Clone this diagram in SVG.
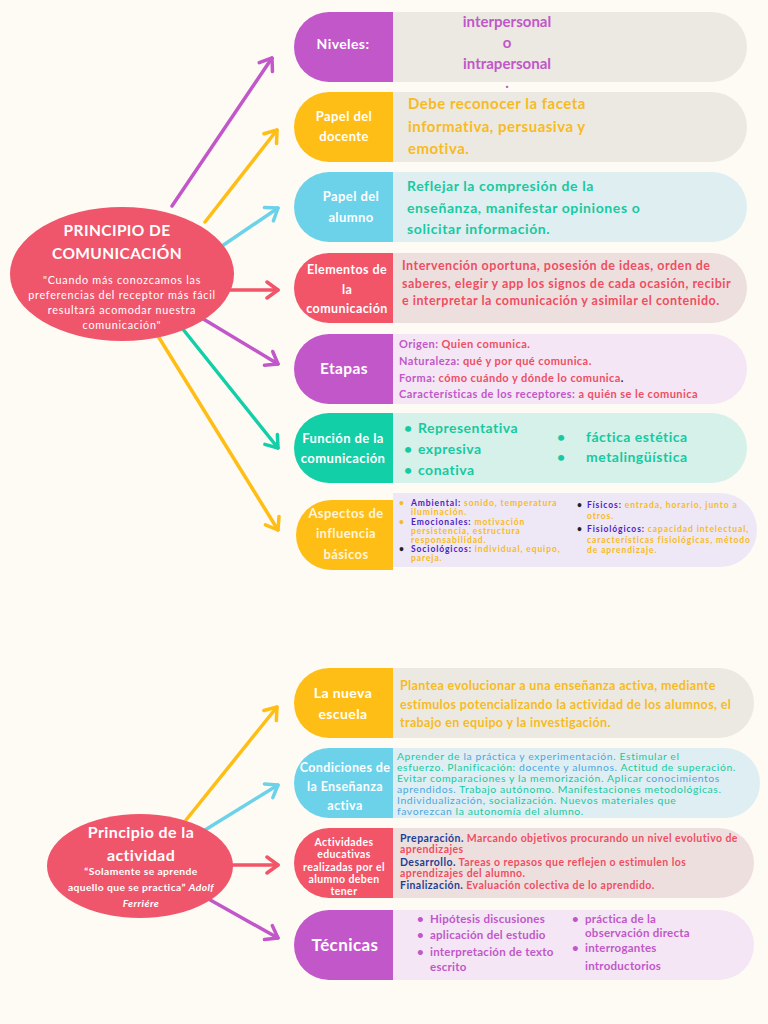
<svg xmlns="http://www.w3.org/2000/svg" width="768" height="1024" viewBox="0 0 768 1024">
<defs>
<style>
text{font-family:Lato,"Open Sans","Noto Sans",sans-serif}
.lbl{fill:#fff;font-weight:700;text-anchor:middle;letter-spacing:0.4px}
.b{font-weight:700}
.pu{fill:#C157C9}.ye{fill:#F7BB22}.te{fill:#17C9A0}.re{fill:#EE4E62}.bl{fill:#4BA6E0}.ind{fill:#4B22C2}.nv{fill:#1E3F94}.bk{fill:#222}
</style>
<marker id="mP" viewBox="-14 -11 16 22" refX="0" refY="0" markerWidth="16" markerHeight="22" markerUnits="userSpaceOnUse" orient="auto"><path d="M-11,-8 L0,0 L-11,8" fill="none" stroke="#C157C9" stroke-width="3.5" stroke-linecap="round" stroke-linejoin="round"/></marker>
<marker id="mY" viewBox="-14 -11 16 22" refX="0" refY="0" markerWidth="16" markerHeight="22" markerUnits="userSpaceOnUse" orient="auto"><path d="M-11,-8 L0,0 L-11,8" fill="none" stroke="#FFBE16" stroke-width="3.5" stroke-linecap="round" stroke-linejoin="round"/></marker>
<marker id="mB" viewBox="-14 -11 16 22" refX="0" refY="0" markerWidth="16" markerHeight="22" markerUnits="userSpaceOnUse" orient="auto"><path d="M-11,-8 L0,0 L-11,8" fill="none" stroke="#6CD2EA" stroke-width="3.5" stroke-linecap="round" stroke-linejoin="round"/></marker>
<marker id="mR" viewBox="-14 -11 16 22" refX="0" refY="0" markerWidth="16" markerHeight="22" markerUnits="userSpaceOnUse" orient="auto"><path d="M-11,-8 L0,0 L-11,8" fill="none" stroke="#F25468" stroke-width="3.5" stroke-linecap="round" stroke-linejoin="round"/></marker>
<marker id="mT" viewBox="-14 -11 16 22" refX="0" refY="0" markerWidth="16" markerHeight="22" markerUnits="userSpaceOnUse" orient="auto"><path d="M-11,-8 L0,0 L-11,8" fill="none" stroke="#12CFA7" stroke-width="3.5" stroke-linecap="round" stroke-linejoin="round"/></marker>
</defs>
<rect width="768" height="1024" fill="#FDFBF4"/>

<g id="connectors" fill="none" stroke-width="3.5" stroke-linecap="round">
<line x1="172" y1="206" x2="272" y2="58" stroke="#C157C9" marker-end="url(#mP)"/>
<line x1="205" y1="222" x2="277" y2="130" stroke="#FFBE16" marker-end="url(#mY)"/>
<line x1="222" y1="246" x2="278" y2="208" stroke="#6CD2EA" marker-end="url(#mB)"/>
<line x1="230" y1="290" x2="278" y2="290" stroke="#F25468" marker-end="url(#mR)"/>
<line x1="200" y1="317" x2="278" y2="364" stroke="#C157C9" marker-end="url(#mP)"/>
<line x1="182" y1="328" x2="278" y2="448" stroke="#12CFA7" marker-end="url(#mT)"/>
<line x1="158" y1="336" x2="278" y2="530" stroke="#FFBE16" marker-end="url(#mY)"/>
<line x1="186" y1="820" x2="277" y2="707" stroke="#FFBE16" marker-end="url(#mY)"/>
<line x1="205" y1="830" x2="278" y2="785" stroke="#6CD2EA" marker-end="url(#mB)"/>
<line x1="230" y1="865" x2="278" y2="865" stroke="#F25468" marker-end="url(#mR)"/>
<line x1="205" y1="897" x2="278" y2="938" stroke="#C157C9" marker-end="url(#mP)"/>
</g>

<g id="principio-comunicacion">
<ellipse cx="122" cy="274" rx="112" ry="67" fill="#F0566B"/>
<text class="lbl" x="117" y="236" font-size="15.5" letter-spacing="0.7">PRINCIPIO DE</text>
<text class="lbl" x="117" y="259" font-size="15.5" letter-spacing="0.7">COMUNICACIÓN</text>
<g font-size="10.8" fill="#fff" text-anchor="middle" letter-spacing="0.75">
<text x="122" y="284">"Cuando más conozcamos las</text>
<text x="122" y="299">preferencias del receptor más fácil</text>
<text x="122" y="314">resultará acomodar nuestra</text>
<text x="122" y="329">comunicación"</text>
</g>
</g>

<g id="niveles">
<path d="M393,12 H712 A35,35 0 0 1 712,82 H393 Z" fill="#ECE9E2"/>
<path d="M393,12 H329 A35,35 0 0 0 329,82 H393 Z" fill="#C157C9"/>
<text class="lbl" x="343" y="49" font-size="14">Niveles:</text>
<g font-size="15" class="b pu" text-anchor="middle" style="font-family:'Liberation Sans',Arial,sans-serif">
<text x="507" y="27">interpersonal</text>
<text x="507" y="48">o</text>
<text x="507" y="69">intrapersonal</text>
<text x="507" y="88">.</text>
</g>
</g>

<g id="papel-docente">
<path d="M393,92 H712 A35,35 0 0 1 712,162 H393 Z" fill="#ECE9E2"/>
<path d="M393,92 H329 A35,35 0 0 0 329,162 H393 Z" fill="#FFBE16"/>
<text class="lbl" x="344" y="121" font-size="13">Papel del</text>
<text class="lbl" x="344" y="141" font-size="13">docente</text>
<g font-size="15" class="b ye" letter-spacing="0.5">
<text x="408" y="109">Debe reconocer la faceta</text>
<text x="408" y="132">informativa, persuasiva y</text>
<text x="408" y="154">emotiva.</text>
</g>
</g>

<g id="papel-alumno">
<path d="M393,172 H712 A35,35 0 0 1 712,242 H393 Z" fill="#DFEEF0"/>
<path d="M393,172 H329 A35,35 0 0 0 329,242 H393 Z" fill="#6CD2EA"/>
<text class="lbl" x="351" y="201" font-size="13">Papel del</text>
<text class="lbl" x="351" y="222" font-size="13">alumno</text>
<g font-size="14" class="b te" letter-spacing="0.6">
<text x="407" y="191">Reflejar la compresión de la</text>
<text x="407" y="213">enseñanza, manifestar opiniones o</text>
<text x="407" y="234">solicitar información.</text>
</g>
</g>

<g id="elementos">
<path d="M393,253 H712 A35,35 0 0 1 712,323 H393 Z" fill="#EEDFDF"/>
<path d="M393,253 H329 A35,35 0 0 0 329,323 H393 Z" fill="#F25468"/>
<text class="lbl" x="347" y="274" font-size="12.5">Elementos de</text>
<text class="lbl" x="347" y="294" font-size="12.5">la</text>
<text class="lbl" x="347" y="313" font-size="12.5">comunicación</text>
<g font-size="12.5" class="b re" letter-spacing="0.5">
<text x="402" y="270">Intervención oportuna, posesión de ideas, orden de</text>
<text x="402" y="288">saberes, elegir y app los signos de cada ocasión, recibir</text>
<text x="402" y="305">e interpretar la comunicación y asimilar el contenido.</text>
</g>
</g>

<g id="etapas">
<path d="M393,334 H712 A35,35 0 0 1 712,404 H393 Z" fill="#F4E6F4"/>
<path d="M393,334 H329 A35,35 0 0 0 329,404 H393 Z" fill="#C157C9"/>
<text class="lbl" x="344" y="374" font-size="15.5">Etapas</text>
<g font-size="11" class="b" letter-spacing="0.45">
<text x="399" y="348"><tspan class="pu">Origen: </tspan><tspan class="re">Quien comunica.</tspan></text>
<text x="399" y="365"><tspan class="pu">Naturaleza: </tspan><tspan class="re">qué y por qué comunica.</tspan></text>
<text x="399" y="382"><tspan class="pu">Forma: </tspan><tspan class="re">cómo cuándo y dónde lo comunica</tspan><tspan class="bk">.</tspan></text>
<text x="399" y="398"><tspan class="pu">Características de los receptores: </tspan><tspan class="re">a quién se le comunica</tspan></text>
</g>
</g>

<g id="funcion">
<path d="M393,413 H712 A35,35 0 0 1 712,483 H393 Z" fill="#D5F1EA"/>
<path d="M393,413 H329 A35,35 0 0 0 329,483 H393 Z" fill="#12CFA7"/>
<text class="lbl" x="343" y="443" font-size="13">Función de la</text>
<text class="lbl" x="343" y="463" font-size="13">comunicación</text>
<g font-size="14" class="b te" letter-spacing="0.5">
<text x="404" y="433">•</text><text x="418" y="433">Representativa</text>
<text x="404" y="454">•</text><text x="418" y="454">expresiva</text>
<text x="404" y="475">•</text><text x="418" y="475">conativa</text>
<text x="557" y="442">•</text><text x="586" y="442">fáctica estética</text>
<text x="557" y="462">•</text><text x="586" y="462">metalingüística</text>
</g>
</g>

<g id="aspectos">
<path d="M393,493 H720 A37,37 0 0 1 720,567 H393 Z" fill="#EEE7F6"/>
<path d="M393,500 H331 A35,35 0 0 0 331,570 H393 Z" fill="#FFBE16"/>
<text class="lbl" x="346" y="518" font-size="13" fill-opacity="0.85">Aspectos de</text>
<text class="lbl" x="346" y="538" font-size="13" fill-opacity="0.85">influencia</text>
<text class="lbl" x="346" y="559" font-size="13" fill-opacity="0.85">básicos</text>
<g font-size="8.5" class="b" letter-spacing="0.9">
<text x="399" y="506" class="ye">•</text><text x="411" y="506"><tspan class="ind">Ambiental: </tspan><tspan class="ye">sonido, temperatura</tspan></text>
<text x="411" y="515" class="ye">iluminación.</text>
<text x="399" y="525" class="ye">•</text><text x="411" y="525"><tspan class="ind">Emocionales: </tspan><tspan class="ye">motivación</tspan></text>
<text x="411" y="534" class="ye">persistencia, estructura</text>
<text x="411" y="543" class="ye">responsabilidad.</text>
<text x="399" y="552" class="bk">•</text><text x="411" y="552"><tspan class="ind">Sociológicos: </tspan><tspan class="ye">individual, equipo,</tspan></text>
<text x="411" y="561" class="ye">pareja.</text>
<text x="577" y="508" class="bk">•</text><text x="587" y="508"><tspan class="ind">Físicos: </tspan><tspan class="ye">entrada, horario, junto a</tspan></text>
<text x="587" y="519" class="ye">otros.</text>
<text x="577" y="532" class="bk">•</text><text x="587" y="532"><tspan class="ind">Fisiológicos: </tspan><tspan class="ye">capacidad intelectual,</tspan></text>
<text x="587" y="543" class="ye">características fisiológicas, método</text>
<text x="587" y="553" class="ye">de aprendizaje.</text>
</g>
</g>

<g id="principio-actividad">
<ellipse cx="140" cy="866" rx="93" ry="52" fill="#F0566B"/>
<text class="lbl" x="141" y="838" font-size="16">Principio de la</text>
<text class="lbl" x="141" y="861" font-size="16">actividad</text>
<g font-size="10.3">
<text class="lbl" x="141" y="875" letter-spacing="0.7">“Solamente se aprende</text>
<text class="lbl" x="141" y="891" letter-spacing="0.7">aquello que se practica” <tspan font-style="italic">Adolf</tspan></text>
<text class="lbl" x="141" y="907" font-style="italic" letter-spacing="0.7">Ferriére</text>
</g>
</g>

<g id="nueva-escuela">
<path d="M393,668 H719 A35,35 0 0 1 719,738 H393 Z" fill="#ECE9E2"/>
<path d="M393,668 H329 A35,35 0 0 0 329,738 H393 Z" fill="#FFBE16"/>
<text class="lbl" x="343" y="698" font-size="14">La nueva</text>
<text class="lbl" x="343" y="719" font-size="14">escuela</text>
<g font-size="12.5" class="b ye" letter-spacing="0.35">
<text x="400" y="690">Plantea evolucionar a una enseñanza activa, mediante</text>
<text x="400" y="709">estímulos potencializando la actividad de los alumnos, el</text>
<text x="400" y="727">trabajo en equipo y la investigación.</text>
</g>
</g>

<g id="condiciones">
<path d="M393,748 H725 A35,35 0 0 1 725,818 H393 Z" fill="#DFEEF2"/>
<path d="M393,748 H329 A35,35 0 0 0 329,818 H393 Z" fill="#6CD2EA"/>
<text class="lbl" x="345" y="772" font-size="12.5">Condiciones de</text>
<text class="lbl" x="345" y="791" font-size="12.5">la Enseñanza</text>
<text class="lbl" x="345" y="810" font-size="12.5">activa</text>
<g font-size="10.4" class="te" letter-spacing="0.6">
<text x="397" y="760">Aprender de  <tspan class="bl">la práctica y experimentación.</tspan> Estimular  el</text>
<text x="397" y="771">esfuerzo. Planificación: <tspan class="bl">docente y alumnos.</tspan> Actitud de superación.</text>
<text x="397" y="782">Evitar comparaciones y la memorización. Aplicar <tspan class="bl">conocimientos</tspan></text>
<text x="397" y="793"><tspan class="bl">aprendidos.</tspan> Trabajo autónomo. Manifestaciones metodológicas.</text>
<text x="397" y="804"><tspan class="bl">Individualización,</tspan> socialización. Nuevos materiales que</text>
<text x="397" y="815"><tspan class="bl">favorezcan</tspan> la autonomía del alumno.</text>
</g>
</g>

<g id="actividades">
<path d="M393,828 H719 A35,35 0 0 1 719,898 H393 Z" fill="#EEDFDF"/>
<path d="M393,828 H329 A35,35 0 0 0 329,898 H393 Z" fill="#F25468"/>
<g font-size="10.5">
<text class="lbl" x="344" y="846">Actividades</text>
<text class="lbl" x="344" y="858">educativas</text>
<text class="lbl" x="344" y="871">realizadas por el</text>
<text class="lbl" x="344" y="883">alumno deben</text>
<text class="lbl" x="344" y="895">tener</text>
</g>
<g font-size="10.5" class="b" letter-spacing="0.45">
<text x="400" y="842"><tspan class="nv">Preparación.</tspan><tspan class="re"> Marcando objetivos procurando un nivel evolutivo de</tspan></text>
<text x="400" y="853" class="re">aprendizajes</text>
<text x="400" y="866"><tspan class="nv">Desarrollo.</tspan><tspan class="re"> Tareas o repasos que reflejen o estimulen los</tspan></text>
<text x="400" y="877" class="re">aprendizajes del alumno.</text>
<text x="400" y="889"><tspan class="nv">Finalización.</tspan><tspan class="re"> Evaluación colectiva de lo aprendido.</tspan></text>
</g>
</g>

<g id="tecnicas">
<path d="M393,910 H719 A35,35 0 0 1 719,980 H393 Z" fill="#F4E6F4"/>
<path d="M393,910 H329 A35,35 0 0 0 329,980 H393 Z" fill="#C157C9"/>
<text class="lbl" x="345" y="951" font-size="17">Técnicas</text>
<g font-size="11.5" class="b pu" letter-spacing="0.25">
<text x="417" y="923">•</text><text x="430" y="923">Hipótesis discusiones</text>
<text x="417" y="939">•</text><text x="430" y="939">aplicación del estudio</text>
<text x="417" y="956">•</text><text x="430" y="956">interpretación de texto</text>
<text x="430" y="971">escrito</text>
<text x="572" y="923">•</text><text x="585" y="923">práctica de la</text>
<text x="585" y="937">observación directa</text>
<text x="572" y="952">•</text><text x="585" y="952">interrogantes</text>
<text x="585" y="970">introductorios</text>
</g>
</g>
</svg>
